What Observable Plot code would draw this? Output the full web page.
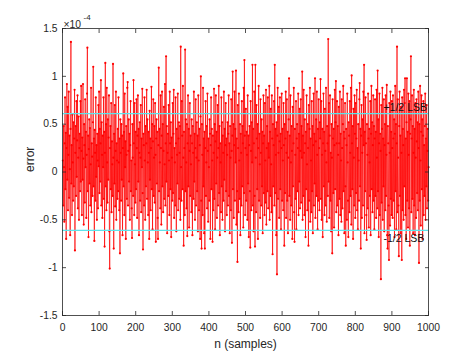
<!DOCTYPE html>
<html><head><meta charset="utf-8">
<script src="https://cdn.jsdelivr.net/npm/d3@7"></script>
<script src="https://cdn.jsdelivr.net/npm/@observablehq/plot@0.6"></script>
<style>html,body{margin:0;padding:0;background:#fff}</style>
</head><body><div id="chart"></div>
<script>
// error values in units of 1e-6 (i.e. hundredths of the 1e-4 axis unit), n = 1..1000
const errorMicro = [
12,-35,48,5,-52,30,78,-18,41,-70, 25,92,-8,68,-40,18,84,-27,38,3, -66,45,136,-12,28,-45,60,10,-30,52, -15,35,86,-82,20,48,-25,74,-5,33, 80,-38,15,58,-50,25,40,-20,74,-10,
90,22,-45,36,-8,92,14,-55,50,28, -32,76,5,42,-48,18,82,130,-20,38, -68,24,55,-12,46,-35,8,88,-42,30, 16,-25,52,110,-15,35,-72,44,20,-30, 78,-5,28,-50,40,12,-38,70,6,84,
-22,45,-10,30,96,-35,52,18,-48,38, 5,78,-28,42,-78,20,114,-15,50,-40, 88,10,-32,55,-8,36,80,-62,-101,25, 48,-18,72,-42,32,8,-25,113,15,-80, 40,-12,70,-36,22,84,-50,30,12,-28,
45,-20,78,10,-40,35,-85,55,20,-30, 50,-8,38,-66,25,103,-15,42,-45,82, 5,32,-70,48,18,-28,88,94,-35,22, 55,-10,40,-50,28,74,-20,12,-38,-69, 50,15,-25,96,30,-45,72,8,-32,42,
-18,76,25,-48,38,80,-10,45,-66,20, 52,-30,15,70,-42,35,5,87,-22,-81, 40,28,-35,78,12,-50,48,-15,30,86, -28,55,10,-45,42,20,-70,64,-8,35, -40,25,89,-18,50,-60,32,76,-25,15,
48,-32,72,18,-73,35,55,-12,42,-48, -70,28,109,-20,45,10,-38,80,25,-55, 38,84,-15,50,-42,22,68,-28,8,92, -35,30,121,-10,48,-64,20,40,-25,70, 12,-45,84,30,-18,52,-68,36,15,-30,
72,-22,40,86,-48,25,10,-35,78,30, -62,45,18,-12,82,-40,35,52,-28,20, 48,-50,131,5,-30,74,38,-18,90,15, -77,42,25,-45,128,-20,55,10,-38,50, -67,30,80,-15,45,-58,22,72,-25,38,
8,-42,55,30,-66,48,20,-28,84,-10, 40,-50,25,76,-35,15,52,-20,38,-62, 80,12,-40,45,28,-70,58,100,-30,-80, 50,18,-45,88,-15,35,-64,42,-80,25, 74,-25,10,48,-38,82,22,-52,35,5,
-30,55,40,-70,28,78,-18,45,12,-73, 38,-40,20,87,-28,50,-60,32,80,-12, 42,-48,15,70,-35,25,90,-22,48,-66, 30,10,-42,78,-15,52,-50,38,20,-30, 84,-8,45,-62,28,72,-20,35,-45,18,
52,-35,40,80,-25,30,-64,48,15,-40, 76,22,-74,38,105,-18,50,-48,28,84, -30,45,10,106,-55,35,-20,-94,70,25, -42,82,12,-28,50,-66,40,20,-35,74, -15,48,30,-58,88,-22,117,38,-45,25,
66,-30,42,18,-50,80,-12,38,-68,28, 48,-20,-79,74,22,-40,52,10,112,-35, 45,-62,30,84,-25,-78,112,15,-42,70, 35,-18,50,-70,25,90,-30,40,8,-48, 76,20,-35,55,-15,42,-64,30,80,-22,
38,-45,72,12,-32,86,-55,25,48,-20, 78,-38,30,15,90,-50,42,-25,66,8, -42,80,35,-86,50,-15,28,74,-35,112, -22,45,18,-66,52,-107,38,88,-28,20, 68,-48,32,78,-18,40,-60,25,82,-30,
45,12,-40,72,28,-77,50,-22,35,84, -48,20,76,-30,42,-64,15,55,98,-25, 38,-50,80,10,-35,48,22,-70,68,-15, 30,88,-42,-73,45,18,-28,74,-60,35, 50,-20,25,82,-45,40,-10,66,-38,22,
76,-32,48,15,105,-50,38,-25,86,20, -45,55,30,-68,42,-18,80,8,-40,50, 25,-77,70,-30,45,88,-52,35,12,-42, 74,-20,48,-64,28,82,-35,40,-12,98, -48,32,55,-25,84,18,-60,45,-30,76,
25,-40,52,35,97,-28,74,-50,18,45, -68,30,82,-15,42,-45,66,22,-35,88, 10,-52,48,30,-25,139,-10,72,-48,38, 80,-30,20,-62,50,15,-85,76,35,-22, 45,-58,28,86,-18,52,95,-42,30,74,
-35,48,18,-66,68,30,-28,84,-45,40, 12,-52,76,25,-38,50,90,-20,42,-64, 35,72,-15,-77,45,28,-50,82,10,-30, -68,52,38,-42,74,20,-25,88,-55,101, 30,-18,48,-70,66,15,-35,80,40,-48,
72,-22,35,86,-40,25,-60,50,12,-30, 76,93,-15,45,-80,38,70,-48,20,55, -35,84,28,112,-64,42,-20,78,30,-45, -71,50,18,-38,82,35,-58,45,10,-25, 74,-66,40,90,-18,52,-42,28,80,-30,
48,-60,35,76,-25,42,-48,86,15,-38, 106,-20,55,-68,30,82,-45,40,22,-112, 70,-32,45,88,-50,35,-15,76,-62,28, 50,-40,80,-25,18,91,-66,-80,48,30, -35,-92,72,20,-56,84,-28,42,-45,74,
25,-48,80,35,-30,55,-68,40,90,-20, 50,-60,30,131,-42,76,15,-35,-88,48, 84,-25,38,-64,68,20,-92,78,-40,45, 28,-50,86,-15,72,98,-45,35,-70,52, 98,-30,42,-58,82,18,-38,74,-77,40,
55,121,-42,35,80,-28,48,-64,20,86, -35,45,-66,72,15,-48,76,32,-22,52, -40,84,25,-95,50,-30,90,12,-56,42, 80,-18,55,-70,38,74,-45,28,-25,48, 82,-50,35,-15,70,-38,22,45,-30,5
];
const xTicks = [0, 100, 200, 300, 400, 500, 600, 700, 800, 900, 1000];
const yTicks = [-1.5, -1, -0.5, 0, 0.5, 1, 1.5];
const lsbLevels = [0.61, -0.61];
const lsbLabels = ["+1/2 LSB", "-1/2 LSB"];
const lsbLabelN = 877;
const yExponentBase = "×10";
const yExponent = "-4";
const xLabel = "n (samples)";
const yLabel = "error";

if (errorMicro.length !== 1000) throw new Error("length " + errorMicro.length);

const samples = errorMicro.map((v, i) => ({n: i + 1, e: v / 100}));
const fmt = d => String(d);
const ink = "#262626";

const chart = Plot.plot({
  width: 474, height: 355,
  marginLeft: 62, marginRight: 46, marginTop: 28, marginBottom: 40,
  style: {fontFamily: "'Liberation Sans', Arial, Helvetica, sans-serif", background: "#fff", color: ink, overflow: "visible"},
  x: {domain: [0, 1000], axis: null},
  y: {domain: [-1.5, 1.5], axis: null},
  marks: [
    Plot.line(samples, {x: "n", y: "e", stroke: "#ff0000", strokeWidth: 0.7}),
    Plot.dot(samples, {x: "n", y: "e", r: 1.1, fill: "#ff0000", stroke: "none"}),
    Plot.ruleY(lsbLevels, {y: d => d, stroke: "#5ee3ea", strokeWidth: 1.2}),
    Plot.text([lsbLevels[0]], {x: () => lsbLabelN, y: d => d, text: () => lsbLabels[0], textAnchor: "start", dy: -6, fontSize: 10.5, fill: "#111"}),
    Plot.text([lsbLevels[1]], {x: () => lsbLabelN, y: d => d, text: () => lsbLabels[1], textAnchor: "start", dy: 8, fontSize: 10.5, fill: "#111"}),
    Plot.frame({stroke: ink, strokeWidth: 0.8}),
    // inward ticks on all four sides
    Plot.axisX(xTicks, {anchor: "bottom", tickSize: 4, dy: -4, tickFormat: () => "", label: null, strokeWidth: 0.8}),
    Plot.axisX(xTicks, {anchor: "top", tickSize: 4, dy: 4, tickFormat: () => "", label: null, strokeWidth: 0.8}),
    Plot.axisY(yTicks, {anchor: "left", tickSize: 4, dx: 4, tickFormat: () => "", label: null, strokeWidth: 0.8}),
    Plot.axisY(yTicks, {anchor: "right", tickSize: 4, dx: -4, tickFormat: () => "", label: null, strokeWidth: 0.8}),
    // tick labels
    Plot.axisX(xTicks, {anchor: "bottom", tickSize: 0, tickPadding: 8, tickFormat: fmt, label: null, fontSize: 10.3}),
    Plot.axisY(yTicks, {anchor: "left", tickSize: 0, tickPadding: 5, tickFormat: fmt, label: null, fontSize: 10.3}),
    // exponent and axis titles
    Plot.text([yExponentBase], {frameAnchor: "top-left", textAnchor: "start", dx: 1, dy: -8, fontSize: 10.3, text: d => d}),
    Plot.text([yExponent], {frameAnchor: "top-left", textAnchor: "start", dx: 21, dy: -14, fontSize: 8, text: d => d}),
    Plot.text([xLabel], {frameAnchor: "bottom", dy: 32, fontSize: 12, text: d => d}),
    Plot.text([yLabel], {frameAnchor: "left", dx: -32, rotate: -90, fontSize: 12, text: d => d})
  ]
});
document.getElementById("chart").appendChild(chart);
</script>
</body></html>
